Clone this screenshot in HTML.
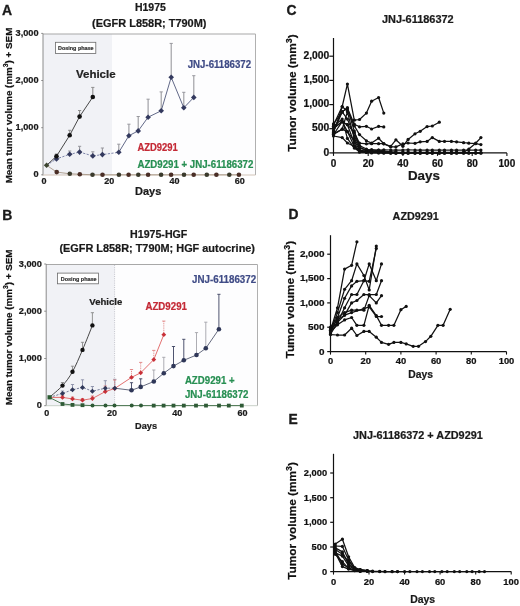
<!DOCTYPE html>
<html><head><meta charset="utf-8"><style>
html,body{margin:0;padding:0;background:#fff;}
svg{display:block;font-family:'Liberation Sans', Arial, sans-serif;}
</style></head><body>
<svg width="520" height="606" viewBox="0 0 520 606">
<text x="2.1" y="15.4" font-size="14" text-anchor="start" fill="#1a1a1a" font-weight="bold" stroke="#1a1a1a" stroke-width="0.3">A</text>
<text x="150.4" y="11.3" font-size="10.5" text-anchor="middle" fill="#1a1a1a" font-weight="bold" stroke="#1a1a1a" stroke-width="0.22">H1975</text>
<text x="149.3" y="26.5" font-size="11" text-anchor="middle" fill="#1a1a1a" font-weight="bold" textLength="114.4" lengthAdjust="spacingAndGlyphs" stroke="#1a1a1a" stroke-width="0.22">(EGFR L858R; T790M)</text>
<rect x="43" y="34" width="212.5" height="141" fill="#fdfdfe" stroke="none"/>
<rect x="43" y="34" width="69" height="141" fill="#f1f2f6"/>
<line x1="43.0" y1="34.0" x2="255.5" y2="34.0" stroke="#a8a8a8" stroke-width="1.2"/>
<line x1="255.5" y1="34.0" x2="255.5" y2="175.0" stroke="#b0b0b0" stroke-width="1"/>
<line x1="43.0" y1="33.5" x2="43.0" y2="175.5" stroke="#8c8c8c" stroke-width="1"/>
<line x1="43.0" y1="175.0" x2="255.5" y2="175.0" stroke="#d2c4b8" stroke-width="1"/>
<line x1="41.2" y1="174.8" x2="43.0" y2="174.8" stroke="#777" stroke-width="0.8"/>
<text x="38.6" y="177.3" font-size="9.2" text-anchor="end" fill="#1a1a1a" font-weight="bold" stroke="#1a1a1a" stroke-width="0.22">0</text>
<line x1="41.2" y1="127.7" x2="43.0" y2="127.7" stroke="#777" stroke-width="0.8"/>
<text x="38.6" y="130.2" font-size="9.2" text-anchor="end" fill="#1a1a1a" font-weight="bold" stroke="#1a1a1a" stroke-width="0.22">1,000</text>
<line x1="41.2" y1="80.5" x2="43.0" y2="80.5" stroke="#777" stroke-width="0.8"/>
<text x="38.6" y="83.0" font-size="9.2" text-anchor="end" fill="#1a1a1a" font-weight="bold" stroke="#1a1a1a" stroke-width="0.22">2,000</text>
<line x1="41.2" y1="33.4" x2="43.0" y2="33.4" stroke="#777" stroke-width="0.8"/>
<text x="38.6" y="35.9" font-size="9.2" text-anchor="end" fill="#1a1a1a" font-weight="bold" stroke="#1a1a1a" stroke-width="0.22">3,000</text>
<text x="43.9" y="184.3" font-size="9" text-anchor="middle" fill="#1a1a1a" font-weight="bold" stroke="#1a1a1a" stroke-width="0.22">0</text>
<text x="109.2" y="184.3" font-size="9" text-anchor="middle" fill="#1a1a1a" font-weight="bold" stroke="#1a1a1a" stroke-width="0.22">20</text>
<text x="174.5" y="184.3" font-size="9" text-anchor="middle" fill="#1a1a1a" font-weight="bold" stroke="#1a1a1a" stroke-width="0.22">40</text>
<text x="239.8" y="184.3" font-size="9" text-anchor="middle" fill="#1a1a1a" font-weight="bold" stroke="#1a1a1a" stroke-width="0.22">60</text>
<text x="148.2" y="194.8" font-size="11.4" text-anchor="middle" fill="#1a1a1a" font-weight="bold" textLength="26.3" lengthAdjust="spacingAndGlyphs" stroke="#1a1a1a" stroke-width="0.22">Days</text>
<text transform="translate(11.9,105.5) rotate(-90)" font-size="9.9" text-anchor="middle" fill="#111" stroke="#111" stroke-width="0.22" font-weight="bold" textLength="155.7" lengthAdjust="spacingAndGlyphs">Mean tumor volume (mm<tspan font-size="6.8" dy="-3.6">3</tspan><tspan dy="3.6">) + SEM</tspan></text>
<rect x="55.4" y="42.3" width="40.4" height="11.2" fill="#fff" stroke="#6a6a6a" stroke-width="0.8"/>
<text x="75.8" y="50.4" font-size="5.8" text-anchor="middle" fill="#333" font-weight="bold" textLength="35.6" lengthAdjust="spacingAndGlyphs" stroke="#333" stroke-width="0.22">Dosing phase</text>
<text x="95.8" y="78.2" font-size="11.5" text-anchor="middle" fill="#222" font-weight="bold" textLength="39.7" lengthAdjust="spacingAndGlyphs" stroke="#222" stroke-width="0.22">Vehicle</text>
<text x="219.4" y="67.9" font-size="10.2" text-anchor="middle" fill="#3f4b86" font-weight="bold" textLength="63.4" lengthAdjust="spacingAndGlyphs" stroke="#3f4b86" stroke-width="0.22">JNJ-61186372</text>
<text x="137.4" y="150.5" font-size="10.0" text-anchor="start" fill="#c42a36" font-weight="bold" textLength="40.4" lengthAdjust="spacingAndGlyphs" stroke="#c42a36" stroke-width="0.22">AZD9291</text>
<text x="137.4" y="167.5" font-size="10.2" text-anchor="start" fill="#278f52" font-weight="bold" textLength="116" lengthAdjust="spacingAndGlyphs" stroke="#278f52" stroke-width="0.22">AZD9291 + JNJ-61186372</text>
<line x1="56.5" y1="156.2" x2="56.5" y2="154.0" stroke="#8e8e8e" stroke-width="1.1"/>
<line x1="54.9" y1="154.0" x2="58.1" y2="154.0" stroke="#8e8e8e" stroke-width="1.0"/>
<line x1="69.7" y1="135.3" x2="69.7" y2="130.3" stroke="#8e8e8e" stroke-width="1.1"/>
<line x1="68.1" y1="130.3" x2="71.3" y2="130.3" stroke="#8e8e8e" stroke-width="1.0"/>
<line x1="79.6" y1="116.6" x2="79.6" y2="110.5" stroke="#8e8e8e" stroke-width="1.1"/>
<line x1="78.0" y1="110.5" x2="81.2" y2="110.5" stroke="#8e8e8e" stroke-width="1.0"/>
<line x1="92.8" y1="97.0" x2="92.8" y2="87.4" stroke="#8e8e8e" stroke-width="1.1"/>
<line x1="91.2" y1="87.4" x2="94.4" y2="87.4" stroke="#8e8e8e" stroke-width="1.0"/>
<line x1="56.5" y1="158.9" x2="56.5" y2="157.0" stroke="#98989e" stroke-width="1.1"/>
<line x1="54.9" y1="157.0" x2="58.1" y2="157.0" stroke="#98989e" stroke-width="1.0"/>
<line x1="69.7" y1="154.3" x2="69.7" y2="151.0" stroke="#98989e" stroke-width="1.1"/>
<line x1="68.1" y1="151.0" x2="71.3" y2="151.0" stroke="#98989e" stroke-width="1.0"/>
<line x1="79.6" y1="152.1" x2="79.6" y2="146.3" stroke="#98989e" stroke-width="1.1"/>
<line x1="78.0" y1="146.3" x2="81.2" y2="146.3" stroke="#98989e" stroke-width="1.0"/>
<line x1="92.8" y1="155.9" x2="92.8" y2="151.8" stroke="#98989e" stroke-width="1.1"/>
<line x1="91.2" y1="151.8" x2="94.4" y2="151.8" stroke="#98989e" stroke-width="1.0"/>
<line x1="102.4" y1="154.6" x2="102.4" y2="148.0" stroke="#98989e" stroke-width="1.1"/>
<line x1="100.8" y1="148.0" x2="104.0" y2="148.0" stroke="#98989e" stroke-width="1.0"/>
<line x1="118.8" y1="152.3" x2="118.8" y2="144.2" stroke="#98989e" stroke-width="1.1"/>
<line x1="117.2" y1="144.2" x2="120.4" y2="144.2" stroke="#98989e" stroke-width="1.0"/>
<line x1="128.9" y1="135.7" x2="128.9" y2="124.2" stroke="#98989e" stroke-width="1.1"/>
<line x1="127.3" y1="124.2" x2="130.5" y2="124.2" stroke="#98989e" stroke-width="1.0"/>
<line x1="138.2" y1="130.9" x2="138.2" y2="116.5" stroke="#98989e" stroke-width="1.1"/>
<line x1="136.6" y1="116.5" x2="139.8" y2="116.5" stroke="#98989e" stroke-width="1.0"/>
<line x1="148.1" y1="117.2" x2="148.1" y2="99.2" stroke="#98989e" stroke-width="1.1"/>
<line x1="146.5" y1="99.2" x2="149.7" y2="99.2" stroke="#98989e" stroke-width="1.0"/>
<line x1="161.2" y1="110.8" x2="161.2" y2="91.9" stroke="#98989e" stroke-width="1.1"/>
<line x1="159.6" y1="91.9" x2="162.8" y2="91.9" stroke="#98989e" stroke-width="1.0"/>
<line x1="171.2" y1="77.3" x2="171.2" y2="43.4" stroke="#98989e" stroke-width="1.1"/>
<line x1="169.6" y1="43.4" x2="172.8" y2="43.4" stroke="#98989e" stroke-width="1.0"/>
<line x1="183.8" y1="107.8" x2="183.8" y2="92.3" stroke="#98989e" stroke-width="1.1"/>
<line x1="182.2" y1="92.3" x2="185.4" y2="92.3" stroke="#98989e" stroke-width="1.0"/>
<line x1="193.8" y1="97.4" x2="193.8" y2="75.7" stroke="#98989e" stroke-width="1.1"/>
<line x1="192.2" y1="75.7" x2="195.4" y2="75.7" stroke="#98989e" stroke-width="1.0"/>
<polyline points="46.6,165.3 56.7,172.1 69.8,173.8 79.8,174.2 92.5,174.8 102.5,174.8 118.9,174.8 128.6,174.8 138.3,174.8 148.1,174.8 161.1,174.8 171.1,174.8 184.0,174.8 193.7,174.8 206.8,174.8 216.4,174.8 229.3,174.8 238.9,174.8" fill="none" stroke="#a89888" stroke-width="0.9" stroke-linejoin="round"/>
<polyline points="46.6,165.3 56.5,158.9 69.7,154.3 79.6,152.1 92.8,155.9 102.4,154.6 118.8,152.3" fill="none" stroke="#7078a0" stroke-width="0.9" stroke-linejoin="round" stroke-dasharray="2.2,1.4"/>
<polyline points="118.8,152.3 128.9,135.7 138.2,130.9 148.1,117.2 161.2,110.8 171.2,77.3 183.8,107.8 193.8,97.4" fill="none" stroke="#50587a" stroke-width="0.9" stroke-linejoin="round"/>
<polyline points="46.6,165.3 56.5,156.2 69.7,135.3 79.6,116.6 92.8,97.0" fill="none" stroke="#333" stroke-width="0.9" stroke-linejoin="round"/>
<circle cx="56.7" cy="172.1" r="2.3" fill="#4a2e26"/>
<circle cx="69.8" cy="173.8" r="2.3" fill="#3a3a2c"/>
<circle cx="79.8" cy="174.2" r="2.3" fill="#4a2e26"/>
<circle cx="92.5" cy="174.8" r="2.3" fill="#3a3a2c"/>
<circle cx="102.5" cy="174.8" r="2.3" fill="#4a2e26"/>
<circle cx="118.9" cy="174.8" r="2.3" fill="#3a3a2c"/>
<circle cx="128.6" cy="174.8" r="2.3" fill="#4a2e26"/>
<circle cx="138.3" cy="174.8" r="2.3" fill="#3a3a2c"/>
<circle cx="148.1" cy="174.8" r="2.3" fill="#4a2e26"/>
<circle cx="161.1" cy="174.8" r="2.3" fill="#3a3a2c"/>
<circle cx="171.1" cy="174.8" r="2.3" fill="#4a2e26"/>
<circle cx="184.0" cy="174.8" r="2.3" fill="#3a3a2c"/>
<circle cx="193.7" cy="174.8" r="2.3" fill="#4a2e26"/>
<circle cx="206.8" cy="174.8" r="2.3" fill="#3a3a2c"/>
<circle cx="216.4" cy="174.8" r="2.3" fill="#4a2e26"/>
<circle cx="229.3" cy="174.8" r="2.3" fill="#3a3a2c"/>
<circle cx="238.9" cy="174.8" r="2.3" fill="#4a2e26"/>
<path d="M56.5,156.1 L59.3,158.9 L56.5,161.7 L53.7,158.9 Z" fill="#33395e"/>
<path d="M69.7,151.5 L72.5,154.3 L69.7,157.1 L66.9,154.3 Z" fill="#33395e"/>
<path d="M79.6,149.3 L82.4,152.1 L79.6,154.9 L76.8,152.1 Z" fill="#33395e"/>
<path d="M92.8,153.1 L95.6,155.9 L92.8,158.7 L90.0,155.9 Z" fill="#33395e"/>
<path d="M102.4,151.8 L105.2,154.6 L102.4,157.4 L99.6,154.6 Z" fill="#33395e"/>
<path d="M118.8,149.5 L121.6,152.3 L118.8,155.1 L116.0,152.3 Z" fill="#33395e"/>
<path d="M128.9,132.9 L131.7,135.7 L128.9,138.5 L126.1,135.7 Z" fill="#33395e"/>
<path d="M138.2,128.1 L141.0,130.9 L138.2,133.7 L135.4,130.9 Z" fill="#33395e"/>
<path d="M148.1,114.4 L150.9,117.2 L148.1,120.0 L145.3,117.2 Z" fill="#33395e"/>
<path d="M161.2,108.0 L164.0,110.8 L161.2,113.6 L158.4,110.8 Z" fill="#33395e"/>
<path d="M171.2,74.5 L174.0,77.3 L171.2,80.1 L168.4,77.3 Z" fill="#33395e"/>
<path d="M183.8,105.0 L186.6,107.8 L183.8,110.6 L181.0,107.8 Z" fill="#33395e"/>
<path d="M193.8,94.6 L196.6,97.4 L193.8,100.2 L191.0,97.4 Z" fill="#33395e"/>
<circle cx="56.5" cy="156.2" r="2.3" fill="#111"/>
<circle cx="69.7" cy="135.3" r="2.3" fill="#111"/>
<circle cx="79.6" cy="116.6" r="2.3" fill="#111"/>
<circle cx="92.8" cy="97.0" r="2.3" fill="#111"/>
<path d="M46.6,162.5 L49.4,165.3 L46.6,168.1 L43.8,165.3 Z" fill="#3d4530"/>
<text x="2.3" y="220.1" font-size="14" text-anchor="start" fill="#1a1a1a" font-weight="bold" stroke="#1a1a1a" stroke-width="0.3">B</text>
<text x="158.7" y="237.8" font-size="10.6" text-anchor="middle" fill="#1a1a1a" font-weight="bold" textLength="57.2" lengthAdjust="spacingAndGlyphs" stroke="#1a1a1a" stroke-width="0.22">H1975-HGF</text>
<text x="157.2" y="252.3" font-size="11" text-anchor="middle" fill="#1a1a1a" font-weight="bold" textLength="195.6" lengthAdjust="spacingAndGlyphs" stroke="#1a1a1a" stroke-width="0.22">(EGFR L858R; T790M; HGF autocrine)</text>
<rect x="46" y="264.5" width="211.5" height="141.2" fill="#fdfdfe"/>
<rect x="46" y="264.5" width="68.6" height="141.2" fill="#f1f2f6"/>
<line x1="114.6" y1="265.0" x2="114.6" y2="405.5" stroke="#b8b8c0" stroke-width="0.8" stroke-dasharray="1,1.2"/>
<line x1="46.0" y1="264.5" x2="257.5" y2="264.5" stroke="#a8a8a8" stroke-width="1.2"/>
<line x1="257.5" y1="264.5" x2="257.5" y2="405.7" stroke="#b0b0b0" stroke-width="1"/>
<line x1="46.2" y1="264.0" x2="46.2" y2="406.0" stroke="#8c8c8c" stroke-width="1"/>
<line x1="46.0" y1="405.7" x2="257.5" y2="405.7" stroke="#c8d0c8" stroke-width="1"/>
<line x1="44.2" y1="405.7" x2="46.2" y2="405.7" stroke="#777" stroke-width="0.8"/>
<text x="41.8" y="408.3" font-size="9.2" text-anchor="end" fill="#1a1a1a" font-weight="bold" stroke="#1a1a1a" stroke-width="0.22">0</text>
<line x1="44.2" y1="358.5" x2="46.2" y2="358.5" stroke="#777" stroke-width="0.8"/>
<text x="41.8" y="361.1" font-size="9.2" text-anchor="end" fill="#1a1a1a" font-weight="bold" stroke="#1a1a1a" stroke-width="0.22">1,000</text>
<line x1="44.2" y1="311.2" x2="46.2" y2="311.2" stroke="#777" stroke-width="0.8"/>
<text x="41.8" y="313.8" font-size="9.2" text-anchor="end" fill="#1a1a1a" font-weight="bold" stroke="#1a1a1a" stroke-width="0.22">2,000</text>
<line x1="44.2" y1="264.0" x2="46.2" y2="264.0" stroke="#777" stroke-width="0.8"/>
<text x="41.8" y="266.6" font-size="9.2" text-anchor="end" fill="#1a1a1a" font-weight="bold" stroke="#1a1a1a" stroke-width="0.22">3,000</text>
<text x="46.8" y="415.9" font-size="9" text-anchor="middle" fill="#1a1a1a" font-weight="bold" stroke="#1a1a1a" stroke-width="0.22">0</text>
<text x="112.0" y="415.9" font-size="9" text-anchor="middle" fill="#1a1a1a" font-weight="bold" stroke="#1a1a1a" stroke-width="0.22">20</text>
<text x="177.2" y="415.9" font-size="9" text-anchor="middle" fill="#1a1a1a" font-weight="bold" stroke="#1a1a1a" stroke-width="0.22">40</text>
<text x="242.4" y="415.9" font-size="9" text-anchor="middle" fill="#1a1a1a" font-weight="bold" stroke="#1a1a1a" stroke-width="0.22">60</text>
<text x="146.0" y="428.5" font-size="9.5" text-anchor="middle" fill="#1a1a1a" font-weight="bold" textLength="22" lengthAdjust="spacingAndGlyphs" stroke="#1a1a1a" stroke-width="0.22">Days</text>
<text transform="translate(11.9,327.35) rotate(-90)" font-size="9.9" text-anchor="middle" fill="#111" stroke="#111" stroke-width="0.22" font-weight="bold" textLength="155.7" lengthAdjust="spacingAndGlyphs">Mean tumor volume (mm<tspan font-size="6.8" dy="-3.6">3</tspan><tspan dy="3.6">) + SEM</tspan></text>
<rect x="57.4" y="273.1" width="41.1" height="10.7" fill="#fff" stroke="#6a6a6a" stroke-width="0.8"/>
<text x="78.7" y="281.2" font-size="5.8" text-anchor="middle" fill="#333" font-weight="bold" textLength="35.8" lengthAdjust="spacingAndGlyphs" stroke="#333" stroke-width="0.22">Dosing phase</text>
<text x="105.8" y="304.6" font-size="9.6" text-anchor="middle" fill="#222" font-weight="bold" textLength="33" lengthAdjust="spacingAndGlyphs" stroke="#222" stroke-width="0.22">Vehicle</text>
<text x="224.1" y="283.4" font-size="10.3" text-anchor="middle" fill="#3f4b86" font-weight="bold" textLength="64" lengthAdjust="spacingAndGlyphs" stroke="#3f4b86" stroke-width="0.22">JNJ-61186372</text>
<text x="166.2" y="309.5" font-size="10.3" text-anchor="middle" fill="#c42a36" font-weight="bold" textLength="41.5" lengthAdjust="spacingAndGlyphs" stroke="#c42a36" stroke-width="0.22">AZD9291</text>
<text x="184.9" y="384.1" font-size="10.3" text-anchor="start" fill="#278f52" font-weight="bold" textLength="49.7" lengthAdjust="spacingAndGlyphs" stroke="#278f52" stroke-width="0.22">AZD9291 +</text>
<text x="184.9" y="398.2" font-size="10.2" text-anchor="start" fill="#278f52" font-weight="bold" textLength="63.6" lengthAdjust="spacingAndGlyphs" stroke="#278f52" stroke-width="0.22">JNJ-61186372</text>
<line x1="62.5" y1="385.6" x2="62.5" y2="382.5" stroke="#8a8a8a" stroke-width="0.9"/>
<line x1="60.9" y1="382.5" x2="64.1" y2="382.5" stroke="#8a8a8a" stroke-width="0.9"/>
<line x1="72.5" y1="371.7" x2="72.5" y2="366.2" stroke="#8a8a8a" stroke-width="0.9"/>
<line x1="70.9" y1="366.2" x2="74.1" y2="366.2" stroke="#8a8a8a" stroke-width="0.9"/>
<line x1="82.5" y1="349.9" x2="82.5" y2="342.3" stroke="#8a8a8a" stroke-width="0.9"/>
<line x1="80.9" y1="342.3" x2="84.1" y2="342.3" stroke="#8a8a8a" stroke-width="0.9"/>
<line x1="92.4" y1="325.4" x2="92.4" y2="312.7" stroke="#8a8a8a" stroke-width="0.9"/>
<line x1="90.8" y1="312.7" x2="94.0" y2="312.7" stroke="#8a8a8a" stroke-width="0.9"/>
<line x1="62.5" y1="393.4" x2="62.5" y2="391.0" stroke="#8a8fa8" stroke-width="0.9"/>
<line x1="60.9" y1="391.0" x2="64.1" y2="391.0" stroke="#8a8fa8" stroke-width="0.9"/>
<line x1="72.5" y1="389.8" x2="72.5" y2="384.5" stroke="#8a8fa8" stroke-width="0.9"/>
<line x1="70.9" y1="384.5" x2="74.1" y2="384.5" stroke="#8a8fa8" stroke-width="0.9"/>
<line x1="82.5" y1="387.4" x2="82.5" y2="379.8" stroke="#8a8fa8" stroke-width="0.9"/>
<line x1="80.9" y1="379.8" x2="84.1" y2="379.8" stroke="#8a8fa8" stroke-width="0.9"/>
<line x1="92.4" y1="391.2" x2="92.4" y2="386.5" stroke="#8a8fa8" stroke-width="0.9"/>
<line x1="90.8" y1="386.5" x2="94.0" y2="386.5" stroke="#8a8fa8" stroke-width="0.9"/>
<line x1="105.3" y1="388.2" x2="105.3" y2="380.7" stroke="#8a8fa8" stroke-width="0.9"/>
<line x1="103.7" y1="380.7" x2="106.9" y2="380.7" stroke="#8a8fa8" stroke-width="0.9"/>
<line x1="114.8" y1="388.2" x2="114.8" y2="379.3" stroke="#8a8fa8" stroke-width="0.9"/>
<line x1="113.2" y1="379.3" x2="116.4" y2="379.3" stroke="#8a8fa8" stroke-width="0.9"/>
<line x1="131.5" y1="390.3" x2="131.5" y2="382.7" stroke="#3c4260" stroke-width="0.9"/>
<line x1="129.9" y1="382.7" x2="133.1" y2="382.7" stroke="#3c4260" stroke-width="0.9"/>
<line x1="140.7" y1="386.9" x2="140.7" y2="378.8" stroke="#3c4260" stroke-width="0.9"/>
<line x1="139.1" y1="378.8" x2="142.3" y2="378.8" stroke="#3c4260" stroke-width="0.9"/>
<line x1="153.8" y1="381.5" x2="153.8" y2="370.0" stroke="#a4a4aa" stroke-width="0.9"/>
<line x1="152.2" y1="370.0" x2="155.4" y2="370.0" stroke="#a4a4aa" stroke-width="0.9"/>
<line x1="163.8" y1="373.2" x2="163.8" y2="357.3" stroke="#a4a4aa" stroke-width="0.9"/>
<line x1="162.2" y1="357.3" x2="165.4" y2="357.3" stroke="#a4a4aa" stroke-width="0.9"/>
<line x1="173.5" y1="366.1" x2="173.5" y2="346.5" stroke="#3c4260" stroke-width="0.9"/>
<line x1="171.9" y1="346.5" x2="175.1" y2="346.5" stroke="#3c4260" stroke-width="0.9"/>
<line x1="183.8" y1="360.3" x2="183.8" y2="339.3" stroke="#3c4260" stroke-width="0.9"/>
<line x1="182.2" y1="339.3" x2="185.4" y2="339.3" stroke="#3c4260" stroke-width="0.9"/>
<line x1="196.5" y1="355.0" x2="196.5" y2="332.6" stroke="#a4a4aa" stroke-width="0.9"/>
<line x1="194.9" y1="332.6" x2="198.1" y2="332.6" stroke="#a4a4aa" stroke-width="0.9"/>
<line x1="205.8" y1="348.3" x2="205.8" y2="322.2" stroke="#a4a4aa" stroke-width="0.9"/>
<line x1="204.2" y1="322.2" x2="207.4" y2="322.2" stroke="#a4a4aa" stroke-width="0.9"/>
<line x1="218.9" y1="329.2" x2="218.9" y2="294.3" stroke="#3c4260" stroke-width="0.9"/>
<line x1="217.3" y1="294.3" x2="220.5" y2="294.3" stroke="#3c4260" stroke-width="0.9"/>
<line x1="62.5" y1="397.4" x2="62.5" y2="395.5" stroke="#e08080" stroke-width="0.9" stroke-dasharray="1,0.8"/>
<line x1="60.9" y1="395.5" x2="64.1" y2="395.5" stroke="#e08080" stroke-width="0.9"/>
<line x1="72.5" y1="398.9" x2="72.5" y2="397.0" stroke="#e08080" stroke-width="0.9" stroke-dasharray="1,0.8"/>
<line x1="70.9" y1="397.0" x2="74.1" y2="397.0" stroke="#e08080" stroke-width="0.9"/>
<line x1="82.5" y1="400.2" x2="82.5" y2="398.5" stroke="#e08080" stroke-width="0.9" stroke-dasharray="1,0.8"/>
<line x1="80.9" y1="398.5" x2="84.1" y2="398.5" stroke="#e08080" stroke-width="0.9"/>
<line x1="92.4" y1="398.5" x2="92.4" y2="396.0" stroke="#e08080" stroke-width="0.9" stroke-dasharray="1,0.8"/>
<line x1="90.8" y1="396.0" x2="94.0" y2="396.0" stroke="#e08080" stroke-width="0.9"/>
<line x1="105.3" y1="391.6" x2="105.3" y2="386.0" stroke="#e08080" stroke-width="0.9" stroke-dasharray="1,0.8"/>
<line x1="103.7" y1="386.0" x2="106.9" y2="386.0" stroke="#e08080" stroke-width="0.9"/>
<line x1="114.7" y1="388.5" x2="114.7" y2="380.0" stroke="#e08080" stroke-width="0.9" stroke-dasharray="1,0.8"/>
<line x1="113.1" y1="380.0" x2="116.3" y2="380.0" stroke="#e08080" stroke-width="0.9"/>
<line x1="131.5" y1="377.4" x2="131.5" y2="369.5" stroke="#e08080" stroke-width="0.9" stroke-dasharray="1,0.8"/>
<line x1="129.9" y1="369.5" x2="133.1" y2="369.5" stroke="#e08080" stroke-width="0.9"/>
<line x1="140.7" y1="372.8" x2="140.7" y2="362.4" stroke="#e08080" stroke-width="0.9" stroke-dasharray="1,0.8"/>
<line x1="139.1" y1="362.4" x2="142.3" y2="362.4" stroke="#e08080" stroke-width="0.9"/>
<line x1="153.8" y1="359.6" x2="153.8" y2="350.4" stroke="#e08080" stroke-width="0.9" stroke-dasharray="1,0.8"/>
<line x1="152.2" y1="350.4" x2="155.4" y2="350.4" stroke="#e08080" stroke-width="0.9"/>
<line x1="163.8" y1="334.7" x2="163.8" y2="321.1" stroke="#e08080" stroke-width="0.9" stroke-dasharray="1,0.8"/>
<line x1="162.2" y1="321.1" x2="165.4" y2="321.1" stroke="#e08080" stroke-width="0.9"/>
<polyline points="49.4,397.4 62.5,404.0 72.5,404.9 82.5,405.2 92.5,405.6 105.5,405.6 114.5,405.6 131.7,405.6 141.0,405.6 153.7,405.6 163.6,405.6 173.5,405.6 183.8,405.6 196.0,405.6 206.0,405.6 219.0,405.6 228.8,405.6 241.8,405.6" fill="none" stroke="#3a6a42" stroke-width="0.9" stroke-linejoin="round"/>
<polyline points="49.4,397.4 62.5,397.4 72.5,398.9 82.5,400.2 92.4,398.5 105.3,391.6 114.7,388.5 131.5,377.4 140.7,372.8 153.8,359.6 163.8,334.7" fill="none" stroke="#e06060" stroke-width="0.9" stroke-linejoin="round"/>
<polyline points="49.4,397.4 62.5,393.4 72.5,389.8 82.5,387.4 92.4,391.2 105.3,388.2 114.8,388.2" fill="none" stroke="#6a7090" stroke-width="0.9" stroke-linejoin="round" stroke-dasharray="2.2,1.4"/>
<polyline points="114.8,388.2 131.5,390.3 140.7,386.9 153.8,381.5 163.8,373.2 173.5,366.1 183.8,360.3 196.5,355.0 205.8,348.3 218.9,329.2" fill="none" stroke="#555a70" stroke-width="0.9" stroke-linejoin="round"/>
<path d="M49.4,397.4 C51.6,395.4 58.6,389.9 62.5,385.6 C66.3,381.3 69.2,377.6 72.5,371.7 C75.8,365.8 79.2,357.6 82.5,349.9 C85.8,342.2 90.8,329.5 92.4,325.4" fill="none" stroke="#333" stroke-width="0.9"/>
<rect x="60.6" y="402.1" width="3.8" height="3.8" fill="#2e5a36"/>
<rect x="70.6" y="403.0" width="3.8" height="3.8" fill="#2e5a36"/>
<rect x="80.6" y="403.3" width="3.8" height="3.8" fill="#2e5a36"/>
<circle cx="92.5" cy="405.6" r="2.0" fill="#2e5a36"/>
<circle cx="105.5" cy="405.6" r="2.0" fill="#2e5a36"/>
<circle cx="114.5" cy="405.6" r="2.0" fill="#2e5a36"/>
<circle cx="131.7" cy="405.6" r="2.0" fill="#2e5a36"/>
<circle cx="141.0" cy="405.6" r="2.0" fill="#2e5a36"/>
<rect x="151.8" y="403.7" width="3.8" height="3.8" fill="#2e5a36"/>
<rect x="161.7" y="403.7" width="3.8" height="3.8" fill="#2e5a36"/>
<rect x="171.6" y="403.7" width="3.8" height="3.8" fill="#2e5a36"/>
<rect x="181.9" y="403.7" width="3.8" height="3.8" fill="#2e5a36"/>
<rect x="194.1" y="403.7" width="3.8" height="3.8" fill="#2e5a36"/>
<rect x="204.1" y="403.7" width="3.8" height="3.8" fill="#2e5a36"/>
<rect x="217.1" y="403.7" width="3.8" height="3.8" fill="#2e5a36"/>
<rect x="226.9" y="403.7" width="3.8" height="3.8" fill="#2e5a36"/>
<rect x="239.9" y="403.7" width="3.8" height="3.8" fill="#2e5a36"/>
<path d="M62.5,395.0 L64.9,397.4 L62.5,399.8 L60.1,397.4 Z" fill="#c83038"/>
<path d="M72.5,396.5 L74.9,398.9 L72.5,401.3 L70.1,398.9 Z" fill="#c83038"/>
<path d="M82.5,397.8 L84.9,400.2 L82.5,402.6 L80.1,400.2 Z" fill="#c83038"/>
<path d="M92.4,396.1 L94.8,398.5 L92.4,400.9 L90.0,398.5 Z" fill="#c83038"/>
<path d="M105.3,389.2 L107.7,391.6 L105.3,394.0 L102.9,391.6 Z" fill="#c83038"/>
<path d="M114.7,386.1 L117.1,388.5 L114.7,390.9 L112.3,388.5 Z" fill="#c83038"/>
<path d="M131.5,375.0 L133.9,377.4 L131.5,379.8 L129.1,377.4 Z" fill="#c83038"/>
<path d="M140.7,370.4 L143.1,372.8 L140.7,375.2 L138.3,372.8 Z" fill="#c83038"/>
<path d="M153.8,357.2 L156.2,359.6 L153.8,362.0 L151.4,359.6 Z" fill="#c83038"/>
<path d="M163.8,332.3 L166.2,334.7 L163.8,337.1 L161.4,334.7 Z" fill="#c83038"/>
<path d="M62.5,390.9 L65.0,393.4 L62.5,395.9 L60.0,393.4 Z" fill="#2f3758"/>
<path d="M72.5,387.3 L75.0,389.8 L72.5,392.3 L70.0,389.8 Z" fill="#2f3758"/>
<path d="M82.5,384.9 L85.0,387.4 L82.5,389.9 L80.0,387.4 Z" fill="#2f3758"/>
<path d="M92.4,388.7 L94.9,391.2 L92.4,393.7 L89.9,391.2 Z" fill="#2f3758"/>
<path d="M105.3,385.7 L107.8,388.2 L105.3,390.7 L102.8,388.2 Z" fill="#2f3758"/>
<path d="M114.8,385.7 L117.3,388.2 L114.8,390.7 L112.3,388.2 Z" fill="#2f3758"/>
<circle cx="131.5" cy="390.3" r="2.3" fill="#2f3758"/>
<circle cx="140.7" cy="386.9" r="2.3" fill="#2f3758"/>
<circle cx="153.8" cy="381.5" r="2.3" fill="#2f3758"/>
<circle cx="163.8" cy="373.2" r="2.3" fill="#2f3758"/>
<circle cx="173.5" cy="366.1" r="2.3" fill="#2f3758"/>
<circle cx="183.8" cy="360.3" r="2.3" fill="#2f3758"/>
<circle cx="196.5" cy="355.0" r="2.3" fill="#2f3758"/>
<circle cx="205.8" cy="348.3" r="2.3" fill="#2f3758"/>
<circle cx="218.9" cy="329.2" r="2.3" fill="#2f3758"/>
<circle cx="62.5" cy="385.6" r="2.2" fill="#111"/>
<circle cx="72.5" cy="371.7" r="2.2" fill="#111"/>
<circle cx="82.5" cy="349.9" r="2.2" fill="#111"/>
<circle cx="92.4" cy="325.4" r="2.2" fill="#111"/>
<rect x="47.5" y="395.2" width="4.2" height="4.2" fill="#2a5a30"/>
<text x="286.6" y="15.1" font-size="13.8" text-anchor="start" fill="#1a1a1a" font-weight="bold" stroke="#1a1a1a" stroke-width="0.35">C</text>
<text x="417.8" y="22.7" font-size="10.8" text-anchor="middle" fill="#1a1a1a" font-weight="bold" textLength="71.8" lengthAdjust="spacingAndGlyphs" stroke="#1a1a1a" stroke-width="0.22">JNJ-61186372</text>
<line x1="333.5" y1="38.0" x2="333.5" y2="153.5" stroke="#111" stroke-width="1.2"/>
<line x1="332.9" y1="152.9" x2="506.9" y2="152.9" stroke="#111" stroke-width="1.2"/>
<line x1="329.3" y1="152.9" x2="333.5" y2="152.9" stroke="#111" stroke-width="1.2"/>
<text x="329.3" y="155.6" font-size="10.3" text-anchor="end" fill="#111" font-weight="bold" stroke="#111" stroke-width="0.22">0</text>
<line x1="329.3" y1="128.7" x2="333.5" y2="128.7" stroke="#111" stroke-width="1.2"/>
<text x="329.3" y="131.4" font-size="10.3" text-anchor="end" fill="#111" font-weight="bold" stroke="#111" stroke-width="0.22">500</text>
<line x1="329.3" y1="104.6" x2="333.5" y2="104.6" stroke="#111" stroke-width="1.2"/>
<text x="329.3" y="107.3" font-size="10.3" text-anchor="end" fill="#111" font-weight="bold" stroke="#111" stroke-width="0.22">1,000</text>
<line x1="329.3" y1="80.4" x2="333.5" y2="80.4" stroke="#111" stroke-width="1.2"/>
<text x="329.3" y="83.1" font-size="10.3" text-anchor="end" fill="#111" font-weight="bold" stroke="#111" stroke-width="0.22">1,500</text>
<line x1="329.3" y1="56.2" x2="333.5" y2="56.2" stroke="#111" stroke-width="1.2"/>
<text x="329.3" y="58.9" font-size="10.3" text-anchor="end" fill="#111" font-weight="bold" stroke="#111" stroke-width="0.22">2,000</text>
<line x1="333.5" y1="152.9" x2="333.5" y2="155.9" stroke="#111" stroke-width="1.1"/>
<text x="333.5" y="166.5" font-size="10" text-anchor="middle" fill="#111" font-weight="bold" stroke="#111" stroke-width="0.22">0</text>
<line x1="368.2" y1="152.9" x2="368.2" y2="155.9" stroke="#111" stroke-width="1.1"/>
<text x="368.2" y="166.5" font-size="10" text-anchor="middle" fill="#111" font-weight="bold" stroke="#111" stroke-width="0.22">20</text>
<line x1="402.9" y1="152.9" x2="402.9" y2="155.9" stroke="#111" stroke-width="1.1"/>
<text x="402.9" y="166.5" font-size="10" text-anchor="middle" fill="#111" font-weight="bold" stroke="#111" stroke-width="0.22">40</text>
<line x1="437.5" y1="152.9" x2="437.5" y2="155.9" stroke="#111" stroke-width="1.1"/>
<text x="437.5" y="166.5" font-size="10" text-anchor="middle" fill="#111" font-weight="bold" stroke="#111" stroke-width="0.22">60</text>
<line x1="472.2" y1="152.9" x2="472.2" y2="155.9" stroke="#111" stroke-width="1.1"/>
<text x="472.2" y="166.5" font-size="10" text-anchor="middle" fill="#111" font-weight="bold" stroke="#111" stroke-width="0.22">80</text>
<line x1="506.9" y1="152.9" x2="506.9" y2="155.9" stroke="#111" stroke-width="1.1"/>
<text x="506.9" y="166.5" font-size="10" text-anchor="middle" fill="#111" font-weight="bold" stroke="#111" stroke-width="0.22">100</text>
<text x="423.9" y="179.5" font-size="12.5" text-anchor="middle" fill="#1a1a1a" font-weight="bold" textLength="31.9" lengthAdjust="spacingAndGlyphs" stroke="#1a1a1a" stroke-width="0.22">Days</text>
<text transform="translate(295.8,93.1) rotate(-90)" font-size="11.5" text-anchor="middle" fill="#111" stroke="#111" stroke-width="0.22" font-weight="bold" textLength="117.5" lengthAdjust="spacingAndGlyphs">Tumor volume (mm<tspan font-size="8.6" dy="-3.6">3</tspan><tspan dy="3.6">)</tspan></text>
<polyline points="333.5,125.0 342.2,106.5 347.4,84.1 354.3,120.2 359.5,119.5 366.4,113.1 371.6,101.2 378.6,97.5 383.8,113.1" fill="none" stroke="#111" stroke-width="1.25" stroke-linejoin="round"/>
<circle cx="333.5" cy="125.0" r="1.6" fill="#111"/>
<circle cx="342.2" cy="106.5" r="1.6" fill="#111"/>
<circle cx="347.4" cy="84.1" r="1.6" fill="#111"/>
<circle cx="354.3" cy="120.2" r="1.6" fill="#111"/>
<circle cx="359.5" cy="119.5" r="1.6" fill="#111"/>
<circle cx="366.4" cy="113.1" r="1.6" fill="#111"/>
<circle cx="371.6" cy="101.2" r="1.6" fill="#111"/>
<circle cx="378.6" cy="97.5" r="1.6" fill="#111"/>
<circle cx="383.8" cy="113.1" r="1.6" fill="#111"/>
<polyline points="333.5,131.1 342.2,111.8 347.4,107.9 354.3,124.2 359.5,126.8 366.4,126.3 371.6,129.0 378.6,126.3 383.8,126.9" fill="none" stroke="#111" stroke-width="1.25" stroke-linejoin="round"/>
<circle cx="333.5" cy="131.1" r="1.6" fill="#111"/>
<circle cx="342.2" cy="111.8" r="1.6" fill="#111"/>
<circle cx="347.4" cy="107.9" r="1.6" fill="#111"/>
<circle cx="354.3" cy="124.2" r="1.6" fill="#111"/>
<circle cx="359.5" cy="126.8" r="1.6" fill="#111"/>
<circle cx="366.4" cy="126.3" r="1.6" fill="#111"/>
<circle cx="371.6" cy="129.0" r="1.6" fill="#111"/>
<circle cx="378.6" cy="126.3" r="1.6" fill="#111"/>
<circle cx="383.8" cy="126.9" r="1.6" fill="#111"/>
<polyline points="333.5,132.6 342.2,106.9 347.4,110.4 354.3,125.8 359.5,134.6 366.4,140.8 371.6,143.1 378.6,138.2 383.8,143.8 390.7,146.3 395.9,139.8 402.9,146.3 408.1,139.4 415.0,133.8 420.2,131.3 427.1,126.6 432.3,126.0 439.3,122.2" fill="none" stroke="#111" stroke-width="1.25" stroke-linejoin="round"/>
<circle cx="333.5" cy="132.6" r="1.6" fill="#111"/>
<circle cx="342.2" cy="106.9" r="1.6" fill="#111"/>
<circle cx="347.4" cy="110.4" r="1.6" fill="#111"/>
<circle cx="354.3" cy="125.8" r="1.6" fill="#111"/>
<circle cx="359.5" cy="134.6" r="1.6" fill="#111"/>
<circle cx="366.4" cy="140.8" r="1.6" fill="#111"/>
<circle cx="371.6" cy="143.1" r="1.6" fill="#111"/>
<circle cx="378.6" cy="138.2" r="1.6" fill="#111"/>
<circle cx="383.8" cy="143.8" r="1.6" fill="#111"/>
<circle cx="390.7" cy="146.3" r="1.6" fill="#111"/>
<circle cx="395.9" cy="139.8" r="1.6" fill="#111"/>
<circle cx="402.9" cy="146.3" r="1.6" fill="#111"/>
<circle cx="408.1" cy="139.4" r="1.6" fill="#111"/>
<circle cx="415.0" cy="133.8" r="1.6" fill="#111"/>
<circle cx="420.2" cy="131.3" r="1.6" fill="#111"/>
<circle cx="427.1" cy="126.6" r="1.6" fill="#111"/>
<circle cx="432.3" cy="126.0" r="1.6" fill="#111"/>
<circle cx="439.3" cy="122.2" r="1.6" fill="#111"/>
<polyline points="333.5,127.8 342.2,121.7 347.4,124.7 354.3,132.6 359.5,143.2 366.4,143.8 371.6,143.7 378.6,143.7 383.8,143.7 390.7,146.9 395.9,146.9 402.9,143.9 408.1,143.0 415.0,143.3 420.2,141.8 427.1,141.4 432.3,137.6 439.3,141.4 444.5,141.4 451.4,141.4 456.6,141.8 463.6,142.7 468.8,143.2 475.7,143.7 480.9,144.6" fill="none" stroke="#111" stroke-width="1.25" stroke-linejoin="round"/>
<circle cx="333.5" cy="127.8" r="1.6" fill="#111"/>
<circle cx="342.2" cy="121.7" r="1.6" fill="#111"/>
<circle cx="347.4" cy="124.7" r="1.6" fill="#111"/>
<circle cx="354.3" cy="132.6" r="1.6" fill="#111"/>
<circle cx="359.5" cy="143.2" r="1.6" fill="#111"/>
<circle cx="366.4" cy="143.8" r="1.6" fill="#111"/>
<circle cx="371.6" cy="143.7" r="1.6" fill="#111"/>
<circle cx="378.6" cy="143.7" r="1.6" fill="#111"/>
<circle cx="383.8" cy="143.7" r="1.6" fill="#111"/>
<circle cx="390.7" cy="146.9" r="1.6" fill="#111"/>
<circle cx="395.9" cy="146.9" r="1.6" fill="#111"/>
<circle cx="402.9" cy="143.9" r="1.6" fill="#111"/>
<circle cx="408.1" cy="143.0" r="1.6" fill="#111"/>
<circle cx="415.0" cy="143.3" r="1.6" fill="#111"/>
<circle cx="420.2" cy="141.8" r="1.6" fill="#111"/>
<circle cx="427.1" cy="141.4" r="1.6" fill="#111"/>
<circle cx="432.3" cy="137.6" r="1.6" fill="#111"/>
<circle cx="439.3" cy="141.4" r="1.6" fill="#111"/>
<circle cx="444.5" cy="141.4" r="1.6" fill="#111"/>
<circle cx="451.4" cy="141.4" r="1.6" fill="#111"/>
<circle cx="456.6" cy="141.8" r="1.6" fill="#111"/>
<circle cx="463.6" cy="142.7" r="1.6" fill="#111"/>
<circle cx="468.8" cy="143.2" r="1.6" fill="#111"/>
<circle cx="475.7" cy="143.7" r="1.6" fill="#111"/>
<circle cx="480.9" cy="144.6" r="1.6" fill="#111"/>
<polyline points="333.5,134.5 342.2,129.2 347.4,111.8 354.3,138.4 359.5,148.1 366.4,150.0 371.6,151.0 378.6,151.4 383.8,151.9 390.7,152.2 395.9,152.4 402.9,152.4 408.1,152.4 415.0,152.4 420.2,152.4 427.1,152.4 432.3,152.4 439.3,152.4 444.5,152.4 451.4,152.4 456.6,152.4 463.6,152.4 468.8,149.0 475.7,143.2 480.9,137.6" fill="none" stroke="#111" stroke-width="1.25" stroke-linejoin="round"/>
<circle cx="333.5" cy="134.5" r="1.6" fill="#111"/>
<circle cx="342.2" cy="129.2" r="1.6" fill="#111"/>
<circle cx="347.4" cy="111.8" r="1.6" fill="#111"/>
<circle cx="354.3" cy="138.4" r="1.6" fill="#111"/>
<circle cx="359.5" cy="148.1" r="1.6" fill="#111"/>
<circle cx="366.4" cy="150.0" r="1.6" fill="#111"/>
<circle cx="371.6" cy="151.0" r="1.6" fill="#111"/>
<circle cx="378.6" cy="151.4" r="1.6" fill="#111"/>
<circle cx="383.8" cy="151.9" r="1.6" fill="#111"/>
<circle cx="390.7" cy="152.2" r="1.6" fill="#111"/>
<circle cx="395.9" cy="152.4" r="1.6" fill="#111"/>
<circle cx="402.9" cy="152.4" r="1.6" fill="#111"/>
<circle cx="408.1" cy="152.4" r="1.6" fill="#111"/>
<circle cx="415.0" cy="152.4" r="1.6" fill="#111"/>
<circle cx="420.2" cy="152.4" r="1.6" fill="#111"/>
<circle cx="427.1" cy="152.4" r="1.6" fill="#111"/>
<circle cx="432.3" cy="152.4" r="1.6" fill="#111"/>
<circle cx="439.3" cy="152.4" r="1.6" fill="#111"/>
<circle cx="444.5" cy="152.4" r="1.6" fill="#111"/>
<circle cx="451.4" cy="152.4" r="1.6" fill="#111"/>
<circle cx="456.6" cy="152.4" r="1.6" fill="#111"/>
<circle cx="463.6" cy="152.4" r="1.6" fill="#111"/>
<circle cx="468.8" cy="149.0" r="1.6" fill="#111"/>
<circle cx="475.7" cy="143.2" r="1.6" fill="#111"/>
<circle cx="480.9" cy="137.6" r="1.6" fill="#111"/>
<polyline points="333.5,123.9 342.2,111.8 347.4,119.1 354.3,136.0 359.5,145.6 366.4,149.0 371.6,150.5 378.6,151.4 383.8,151.9 390.7,152.4 395.9,152.7 402.9,152.9" fill="none" stroke="#111" stroke-width="1.25" stroke-linejoin="round"/>
<circle cx="333.5" cy="123.9" r="1.6" fill="#111"/>
<circle cx="342.2" cy="111.8" r="1.6" fill="#111"/>
<circle cx="347.4" cy="119.1" r="1.6" fill="#111"/>
<circle cx="354.3" cy="136.0" r="1.6" fill="#111"/>
<circle cx="359.5" cy="145.6" r="1.6" fill="#111"/>
<circle cx="366.4" cy="149.0" r="1.6" fill="#111"/>
<circle cx="371.6" cy="150.5" r="1.6" fill="#111"/>
<circle cx="378.6" cy="151.4" r="1.6" fill="#111"/>
<circle cx="383.8" cy="151.9" r="1.6" fill="#111"/>
<circle cx="390.7" cy="152.4" r="1.6" fill="#111"/>
<circle cx="395.9" cy="152.7" r="1.6" fill="#111"/>
<circle cx="402.9" cy="152.9" r="1.6" fill="#111"/>
<polyline points="333.5,128.7 342.2,121.5 347.4,131.6 354.3,140.8 359.5,150.0 366.4,151.4 371.6,151.9 378.6,152.4 383.8,152.7 390.7,152.9 395.9,152.9 402.9,152.9 408.1,152.9 415.0,152.9 420.2,152.9 427.1,152.9 432.3,152.9 439.3,152.9 444.5,152.9 451.4,152.9 456.6,152.9 463.6,152.9 468.8,152.9 475.7,152.9 480.9,152.9" fill="none" stroke="#111" stroke-width="1.25" stroke-linejoin="round"/>
<circle cx="333.5" cy="128.7" r="1.6" fill="#111"/>
<circle cx="342.2" cy="121.5" r="1.6" fill="#111"/>
<circle cx="347.4" cy="131.6" r="1.6" fill="#111"/>
<circle cx="354.3" cy="140.8" r="1.6" fill="#111"/>
<circle cx="359.5" cy="150.0" r="1.6" fill="#111"/>
<circle cx="366.4" cy="151.4" r="1.6" fill="#111"/>
<circle cx="371.6" cy="151.9" r="1.6" fill="#111"/>
<circle cx="378.6" cy="152.4" r="1.6" fill="#111"/>
<circle cx="383.8" cy="152.7" r="1.6" fill="#111"/>
<circle cx="390.7" cy="152.9" r="1.6" fill="#111"/>
<circle cx="395.9" cy="152.9" r="1.6" fill="#111"/>
<circle cx="402.9" cy="152.9" r="1.6" fill="#111"/>
<circle cx="408.1" cy="152.9" r="1.6" fill="#111"/>
<circle cx="415.0" cy="152.9" r="1.6" fill="#111"/>
<circle cx="420.2" cy="152.9" r="1.6" fill="#111"/>
<circle cx="427.1" cy="152.9" r="1.6" fill="#111"/>
<circle cx="432.3" cy="152.9" r="1.6" fill="#111"/>
<circle cx="439.3" cy="152.9" r="1.6" fill="#111"/>
<circle cx="444.5" cy="152.9" r="1.6" fill="#111"/>
<circle cx="451.4" cy="152.9" r="1.6" fill="#111"/>
<circle cx="456.6" cy="152.9" r="1.6" fill="#111"/>
<circle cx="463.6" cy="152.9" r="1.6" fill="#111"/>
<circle cx="468.8" cy="152.9" r="1.6" fill="#111"/>
<circle cx="475.7" cy="152.9" r="1.6" fill="#111"/>
<circle cx="480.9" cy="152.9" r="1.6" fill="#111"/>
<polyline points="333.5,136.0 342.2,137.6 347.4,143.0 354.3,146.5 359.5,151.9 366.4,151.9 371.6,152.4 378.6,152.7 383.8,152.9 390.7,152.9 395.9,152.9 402.9,152.9 408.1,152.9 415.0,152.9 420.2,152.9 427.1,152.9 432.3,152.9 439.3,152.9 444.5,152.9 451.4,152.9 456.6,152.9 463.6,152.9 468.8,152.9 475.7,152.9 480.9,152.9" fill="none" stroke="#111" stroke-width="1.25" stroke-linejoin="round"/>
<circle cx="333.5" cy="136.0" r="1.6" fill="#111"/>
<circle cx="342.2" cy="137.6" r="1.6" fill="#111"/>
<circle cx="347.4" cy="143.0" r="1.6" fill="#111"/>
<circle cx="354.3" cy="146.5" r="1.6" fill="#111"/>
<circle cx="359.5" cy="151.9" r="1.6" fill="#111"/>
<circle cx="366.4" cy="151.9" r="1.6" fill="#111"/>
<circle cx="371.6" cy="152.4" r="1.6" fill="#111"/>
<circle cx="378.6" cy="152.7" r="1.6" fill="#111"/>
<circle cx="383.8" cy="152.9" r="1.6" fill="#111"/>
<circle cx="390.7" cy="152.9" r="1.6" fill="#111"/>
<circle cx="395.9" cy="152.9" r="1.6" fill="#111"/>
<circle cx="402.9" cy="152.9" r="1.6" fill="#111"/>
<circle cx="408.1" cy="152.9" r="1.6" fill="#111"/>
<circle cx="415.0" cy="152.9" r="1.6" fill="#111"/>
<circle cx="420.2" cy="152.9" r="1.6" fill="#111"/>
<circle cx="427.1" cy="152.9" r="1.6" fill="#111"/>
<circle cx="432.3" cy="152.9" r="1.6" fill="#111"/>
<circle cx="439.3" cy="152.9" r="1.6" fill="#111"/>
<circle cx="444.5" cy="152.9" r="1.6" fill="#111"/>
<circle cx="451.4" cy="152.9" r="1.6" fill="#111"/>
<circle cx="456.6" cy="152.9" r="1.6" fill="#111"/>
<circle cx="463.6" cy="152.9" r="1.6" fill="#111"/>
<circle cx="468.8" cy="152.9" r="1.6" fill="#111"/>
<circle cx="475.7" cy="152.9" r="1.6" fill="#111"/>
<circle cx="480.9" cy="152.9" r="1.6" fill="#111"/>
<polyline points="333.5,133.6 342.2,129.2 347.4,131.6 354.3,146.5 359.5,150.5 366.4,150.0 371.6,149.5 378.6,150.0 383.8,149.8 390.7,150.0 395.9,150.0 402.9,150.0 408.1,149.8 415.0,150.0 420.2,150.0 427.1,150.0 432.3,150.0 439.3,150.0 444.5,150.0 451.4,150.0 456.6,150.2 463.6,150.0 468.8,150.0 475.7,150.0 480.9,150.0" fill="none" stroke="#111" stroke-width="1.25" stroke-linejoin="round"/>
<circle cx="333.5" cy="133.6" r="1.6" fill="#111"/>
<circle cx="342.2" cy="129.2" r="1.6" fill="#111"/>
<circle cx="347.4" cy="131.6" r="1.6" fill="#111"/>
<circle cx="354.3" cy="146.5" r="1.6" fill="#111"/>
<circle cx="359.5" cy="150.5" r="1.6" fill="#111"/>
<circle cx="366.4" cy="150.0" r="1.6" fill="#111"/>
<circle cx="371.6" cy="149.5" r="1.6" fill="#111"/>
<circle cx="378.6" cy="150.0" r="1.6" fill="#111"/>
<circle cx="383.8" cy="149.8" r="1.6" fill="#111"/>
<circle cx="390.7" cy="150.0" r="1.6" fill="#111"/>
<circle cx="395.9" cy="150.0" r="1.6" fill="#111"/>
<circle cx="402.9" cy="150.0" r="1.6" fill="#111"/>
<circle cx="408.1" cy="149.8" r="1.6" fill="#111"/>
<circle cx="415.0" cy="150.0" r="1.6" fill="#111"/>
<circle cx="420.2" cy="150.0" r="1.6" fill="#111"/>
<circle cx="427.1" cy="150.0" r="1.6" fill="#111"/>
<circle cx="432.3" cy="150.0" r="1.6" fill="#111"/>
<circle cx="439.3" cy="150.0" r="1.6" fill="#111"/>
<circle cx="444.5" cy="150.0" r="1.6" fill="#111"/>
<circle cx="451.4" cy="150.0" r="1.6" fill="#111"/>
<circle cx="456.6" cy="150.2" r="1.6" fill="#111"/>
<circle cx="463.6" cy="150.0" r="1.6" fill="#111"/>
<circle cx="468.8" cy="150.0" r="1.6" fill="#111"/>
<circle cx="475.7" cy="150.0" r="1.6" fill="#111"/>
<circle cx="480.9" cy="150.0" r="1.6" fill="#111"/>
<polyline points="333.5,131.1 342.2,111.8 347.4,107.9 354.3,131.1 359.5,147.1 366.4,150.5 371.6,151.4 378.6,151.9 383.8,152.4 390.7,152.7 395.9,152.9 402.9,152.9 408.1,152.9 415.0,152.9 420.2,152.9 427.1,152.9 432.3,152.9 439.3,152.9 444.5,152.9 451.4,152.9" fill="none" stroke="#111" stroke-width="1.25" stroke-linejoin="round"/>
<circle cx="333.5" cy="131.1" r="1.6" fill="#111"/>
<circle cx="342.2" cy="111.8" r="1.6" fill="#111"/>
<circle cx="347.4" cy="107.9" r="1.6" fill="#111"/>
<circle cx="354.3" cy="131.1" r="1.6" fill="#111"/>
<circle cx="359.5" cy="147.1" r="1.6" fill="#111"/>
<circle cx="366.4" cy="150.5" r="1.6" fill="#111"/>
<circle cx="371.6" cy="151.4" r="1.6" fill="#111"/>
<circle cx="378.6" cy="151.9" r="1.6" fill="#111"/>
<circle cx="383.8" cy="152.4" r="1.6" fill="#111"/>
<circle cx="390.7" cy="152.7" r="1.6" fill="#111"/>
<circle cx="395.9" cy="152.9" r="1.6" fill="#111"/>
<circle cx="402.9" cy="152.9" r="1.6" fill="#111"/>
<circle cx="408.1" cy="152.9" r="1.6" fill="#111"/>
<circle cx="415.0" cy="152.9" r="1.6" fill="#111"/>
<circle cx="420.2" cy="152.9" r="1.6" fill="#111"/>
<circle cx="427.1" cy="152.9" r="1.6" fill="#111"/>
<circle cx="432.3" cy="152.9" r="1.6" fill="#111"/>
<circle cx="439.3" cy="152.9" r="1.6" fill="#111"/>
<circle cx="444.5" cy="152.9" r="1.6" fill="#111"/>
<circle cx="451.4" cy="152.9" r="1.6" fill="#111"/>
<polyline points="333.5,134.5 342.2,121.7 347.4,124.7 354.3,143.2 359.5,151.9 366.4,152.4 371.6,152.9 378.6,152.9 383.8,152.9 390.7,152.9 395.9,152.9 402.9,152.9 408.1,152.9 415.0,152.9 420.2,152.9 427.1,152.9 432.3,152.9 439.3,152.9 444.5,152.9 451.4,152.9 456.6,152.9 463.6,152.9 468.8,152.9 475.7,152.9 480.9,152.9" fill="none" stroke="#111" stroke-width="1.25" stroke-linejoin="round"/>
<circle cx="333.5" cy="134.5" r="1.6" fill="#111"/>
<circle cx="342.2" cy="121.7" r="1.6" fill="#111"/>
<circle cx="347.4" cy="124.7" r="1.6" fill="#111"/>
<circle cx="354.3" cy="143.2" r="1.6" fill="#111"/>
<circle cx="359.5" cy="151.9" r="1.6" fill="#111"/>
<circle cx="366.4" cy="152.4" r="1.6" fill="#111"/>
<circle cx="371.6" cy="152.9" r="1.6" fill="#111"/>
<circle cx="378.6" cy="152.9" r="1.6" fill="#111"/>
<circle cx="383.8" cy="152.9" r="1.6" fill="#111"/>
<circle cx="390.7" cy="152.9" r="1.6" fill="#111"/>
<circle cx="395.9" cy="152.9" r="1.6" fill="#111"/>
<circle cx="402.9" cy="152.9" r="1.6" fill="#111"/>
<circle cx="408.1" cy="152.9" r="1.6" fill="#111"/>
<circle cx="415.0" cy="152.9" r="1.6" fill="#111"/>
<circle cx="420.2" cy="152.9" r="1.6" fill="#111"/>
<circle cx="427.1" cy="152.9" r="1.6" fill="#111"/>
<circle cx="432.3" cy="152.9" r="1.6" fill="#111"/>
<circle cx="439.3" cy="152.9" r="1.6" fill="#111"/>
<circle cx="444.5" cy="152.9" r="1.6" fill="#111"/>
<circle cx="451.4" cy="152.9" r="1.6" fill="#111"/>
<circle cx="456.6" cy="152.9" r="1.6" fill="#111"/>
<circle cx="463.6" cy="152.9" r="1.6" fill="#111"/>
<circle cx="468.8" cy="152.9" r="1.6" fill="#111"/>
<circle cx="475.7" cy="152.9" r="1.6" fill="#111"/>
<circle cx="480.9" cy="152.9" r="1.6" fill="#111"/>
<polyline points="333.5,126.3 342.2,119.1 347.4,138.4 354.3,148.1 359.5,151.4 366.4,151.9 371.6,151.4 378.6,150.0 383.8,151.0 390.7,151.9 395.9,152.4 402.9,152.9" fill="none" stroke="#111" stroke-width="1.25" stroke-linejoin="round"/>
<circle cx="333.5" cy="126.3" r="1.6" fill="#111"/>
<circle cx="342.2" cy="119.1" r="1.6" fill="#111"/>
<circle cx="347.4" cy="138.4" r="1.6" fill="#111"/>
<circle cx="354.3" cy="148.1" r="1.6" fill="#111"/>
<circle cx="359.5" cy="151.4" r="1.6" fill="#111"/>
<circle cx="366.4" cy="151.9" r="1.6" fill="#111"/>
<circle cx="371.6" cy="151.4" r="1.6" fill="#111"/>
<circle cx="378.6" cy="150.0" r="1.6" fill="#111"/>
<circle cx="383.8" cy="151.0" r="1.6" fill="#111"/>
<circle cx="390.7" cy="151.9" r="1.6" fill="#111"/>
<circle cx="395.9" cy="152.4" r="1.6" fill="#111"/>
<circle cx="402.9" cy="152.9" r="1.6" fill="#111"/>
<text x="288.5" y="218.9" font-size="13.8" text-anchor="start" fill="#1a1a1a" font-weight="bold" stroke="#1a1a1a" stroke-width="0.35">D</text>
<text x="415.7" y="220.0" font-size="10.8" text-anchor="middle" fill="#1a1a1a" font-weight="bold" textLength="46.2" lengthAdjust="spacingAndGlyphs" stroke="#1a1a1a" stroke-width="0.22">AZD9291</text>
<line x1="330.5" y1="235.2" x2="330.5" y2="352.2" stroke="#111" stroke-width="1.2"/>
<line x1="329.9" y1="351.6" x2="506.5" y2="351.6" stroke="#111" stroke-width="1.2"/>
<line x1="327.2" y1="351.6" x2="330.5" y2="351.6" stroke="#111" stroke-width="1.2"/>
<text x="324.6" y="354.5" font-size="9.9" text-anchor="end" fill="#111" font-weight="bold" stroke="#111" stroke-width="0.22">0</text>
<line x1="327.2" y1="327.2" x2="330.5" y2="327.2" stroke="#111" stroke-width="1.2"/>
<text x="324.6" y="330.1" font-size="9.9" text-anchor="end" fill="#111" font-weight="bold" stroke="#111" stroke-width="0.22">500</text>
<line x1="327.2" y1="302.9" x2="330.5" y2="302.9" stroke="#111" stroke-width="1.2"/>
<text x="324.6" y="305.8" font-size="9.9" text-anchor="end" fill="#111" font-weight="bold" stroke="#111" stroke-width="0.22">1,000</text>
<line x1="327.2" y1="278.6" x2="330.5" y2="278.6" stroke="#111" stroke-width="1.2"/>
<text x="324.6" y="281.4" font-size="9.9" text-anchor="end" fill="#111" font-weight="bold" stroke="#111" stroke-width="0.22">1,500</text>
<line x1="327.2" y1="254.2" x2="330.5" y2="254.2" stroke="#111" stroke-width="1.2"/>
<text x="324.6" y="257.1" font-size="9.9" text-anchor="end" fill="#111" font-weight="bold" stroke="#111" stroke-width="0.22">2,000</text>
<line x1="330.5" y1="351.6" x2="330.5" y2="354.6" stroke="#111" stroke-width="1.1"/>
<text x="330.5" y="364.4" font-size="9.4" text-anchor="middle" fill="#111" font-weight="bold" stroke="#111" stroke-width="0.22">0</text>
<line x1="365.7" y1="351.6" x2="365.7" y2="354.6" stroke="#111" stroke-width="1.1"/>
<text x="365.7" y="364.4" font-size="9.4" text-anchor="middle" fill="#111" font-weight="bold" stroke="#111" stroke-width="0.22">20</text>
<line x1="400.9" y1="351.6" x2="400.9" y2="354.6" stroke="#111" stroke-width="1.1"/>
<text x="400.9" y="364.4" font-size="9.4" text-anchor="middle" fill="#111" font-weight="bold" stroke="#111" stroke-width="0.22">40</text>
<line x1="436.1" y1="351.6" x2="436.1" y2="354.6" stroke="#111" stroke-width="1.1"/>
<text x="436.1" y="364.4" font-size="9.4" text-anchor="middle" fill="#111" font-weight="bold" stroke="#111" stroke-width="0.22">60</text>
<line x1="471.3" y1="351.6" x2="471.3" y2="354.6" stroke="#111" stroke-width="1.1"/>
<text x="471.3" y="364.4" font-size="9.4" text-anchor="middle" fill="#111" font-weight="bold" stroke="#111" stroke-width="0.22">80</text>
<line x1="506.5" y1="351.6" x2="506.5" y2="354.6" stroke="#111" stroke-width="1.1"/>
<text x="506.5" y="364.4" font-size="9.4" text-anchor="middle" fill="#111" font-weight="bold" stroke="#111" stroke-width="0.22">100</text>
<text x="420.6" y="378.0" font-size="10.3" text-anchor="middle" fill="#1a1a1a" font-weight="bold" textLength="24.7" lengthAdjust="spacingAndGlyphs" stroke="#1a1a1a" stroke-width="0.22">Days</text>
<text transform="translate(293.6,299.65) rotate(-90)" font-size="11.5" text-anchor="middle" fill="#111" stroke="#111" stroke-width="0.22" font-weight="bold" textLength="117.6" lengthAdjust="spacingAndGlyphs">Tumor volume (mm<tspan font-size="8.6" dy="-3.6">3</tspan><tspan dy="3.6">)</tspan></text>
<polyline points="330.5,330.2 337.5,307.8 344.6,269.1 351.6,265.3 356.9,241.8" fill="none" stroke="#111" stroke-width="1.25" stroke-linejoin="round"/>
<circle cx="330.5" cy="330.2" r="1.6" fill="#111"/>
<circle cx="337.5" cy="307.8" r="1.6" fill="#111"/>
<circle cx="344.6" cy="269.1" r="1.6" fill="#111"/>
<circle cx="351.6" cy="265.3" r="1.6" fill="#111"/>
<circle cx="356.9" cy="241.8" r="1.6" fill="#111"/>
<polyline points="330.5,331.1 337.5,312.6 344.6,289.3 351.6,280.7 356.9,263.9 363.9,275.5 369.2,289.9 376.3,246.1" fill="none" stroke="#111" stroke-width="1.25" stroke-linejoin="round"/>
<circle cx="330.5" cy="331.1" r="1.6" fill="#111"/>
<circle cx="337.5" cy="312.6" r="1.6" fill="#111"/>
<circle cx="344.6" cy="289.3" r="1.6" fill="#111"/>
<circle cx="351.6" cy="280.7" r="1.6" fill="#111"/>
<circle cx="356.9" cy="263.9" r="1.6" fill="#111"/>
<circle cx="363.9" cy="275.5" r="1.6" fill="#111"/>
<circle cx="369.2" cy="289.9" r="1.6" fill="#111"/>
<circle cx="376.3" cy="246.1" r="1.6" fill="#111"/>
<polyline points="330.5,333.1 337.5,317.5 344.6,298.3 351.6,285.9 356.9,281.3 363.9,280.7 369.2,263.9 376.3,280.7 381.5,263.9" fill="none" stroke="#111" stroke-width="1.25" stroke-linejoin="round"/>
<circle cx="330.5" cy="333.1" r="1.6" fill="#111"/>
<circle cx="337.5" cy="317.5" r="1.6" fill="#111"/>
<circle cx="344.6" cy="298.3" r="1.6" fill="#111"/>
<circle cx="351.6" cy="285.9" r="1.6" fill="#111"/>
<circle cx="356.9" cy="281.3" r="1.6" fill="#111"/>
<circle cx="363.9" cy="280.7" r="1.6" fill="#111"/>
<circle cx="369.2" cy="263.9" r="1.6" fill="#111"/>
<circle cx="376.3" cy="280.7" r="1.6" fill="#111"/>
<circle cx="381.5" cy="263.9" r="1.6" fill="#111"/>
<polyline points="330.5,334.1 337.5,322.4 344.6,307.8 351.6,294.5 356.9,294.5 363.9,280.7 369.2,281.3 376.3,248.4" fill="none" stroke="#111" stroke-width="1.25" stroke-linejoin="round"/>
<circle cx="330.5" cy="334.1" r="1.6" fill="#111"/>
<circle cx="337.5" cy="322.4" r="1.6" fill="#111"/>
<circle cx="344.6" cy="307.8" r="1.6" fill="#111"/>
<circle cx="351.6" cy="294.5" r="1.6" fill="#111"/>
<circle cx="356.9" cy="294.5" r="1.6" fill="#111"/>
<circle cx="363.9" cy="280.7" r="1.6" fill="#111"/>
<circle cx="369.2" cy="281.3" r="1.6" fill="#111"/>
<circle cx="376.3" cy="248.4" r="1.6" fill="#111"/>
<polyline points="330.5,329.7 337.5,322.4 344.6,315.1 351.6,302.9 356.9,300.5 363.9,294.5 369.2,294.5 376.3,294.5 381.5,280.7" fill="none" stroke="#111" stroke-width="1.25" stroke-linejoin="round"/>
<circle cx="330.5" cy="329.7" r="1.6" fill="#111"/>
<circle cx="337.5" cy="322.4" r="1.6" fill="#111"/>
<circle cx="344.6" cy="315.1" r="1.6" fill="#111"/>
<circle cx="351.6" cy="302.9" r="1.6" fill="#111"/>
<circle cx="356.9" cy="300.5" r="1.6" fill="#111"/>
<circle cx="363.9" cy="294.5" r="1.6" fill="#111"/>
<circle cx="369.2" cy="294.5" r="1.6" fill="#111"/>
<circle cx="376.3" cy="294.5" r="1.6" fill="#111"/>
<circle cx="381.5" cy="280.7" r="1.6" fill="#111"/>
<polyline points="330.5,327.2 337.5,317.5 344.6,312.6 351.6,310.2 356.9,310.2 363.9,310.2 369.2,295.6 376.3,302.9 381.5,295.7" fill="none" stroke="#111" stroke-width="1.25" stroke-linejoin="round"/>
<circle cx="330.5" cy="327.2" r="1.6" fill="#111"/>
<circle cx="337.5" cy="317.5" r="1.6" fill="#111"/>
<circle cx="344.6" cy="312.6" r="1.6" fill="#111"/>
<circle cx="351.6" cy="310.2" r="1.6" fill="#111"/>
<circle cx="356.9" cy="310.2" r="1.6" fill="#111"/>
<circle cx="363.9" cy="310.2" r="1.6" fill="#111"/>
<circle cx="369.2" cy="295.6" r="1.6" fill="#111"/>
<circle cx="376.3" cy="302.9" r="1.6" fill="#111"/>
<circle cx="381.5" cy="295.7" r="1.6" fill="#111"/>
<polyline points="330.5,328.7 337.5,319.9 344.6,315.1 351.6,312.6 363.9,308.7 369.2,306.8 376.3,316.5 381.5,316.5" fill="none" stroke="#111" stroke-width="1.25" stroke-linejoin="round"/>
<circle cx="330.5" cy="328.7" r="1.6" fill="#111"/>
<circle cx="337.5" cy="319.9" r="1.6" fill="#111"/>
<circle cx="344.6" cy="315.1" r="1.6" fill="#111"/>
<circle cx="351.6" cy="312.6" r="1.6" fill="#111"/>
<circle cx="363.9" cy="308.7" r="1.6" fill="#111"/>
<circle cx="369.2" cy="306.8" r="1.6" fill="#111"/>
<circle cx="376.3" cy="316.5" r="1.6" fill="#111"/>
<circle cx="381.5" cy="316.5" r="1.6" fill="#111"/>
<polyline points="330.5,332.1 337.5,324.8 344.6,319.9 351.6,317.5 356.9,325.3 363.9,325.3 369.2,305.3 376.3,315.6 381.5,325.3 388.6,325.3 393.9,325.3 400.9,309.7 406.2,306.4" fill="none" stroke="#111" stroke-width="1.25" stroke-linejoin="round"/>
<circle cx="330.5" cy="332.1" r="1.6" fill="#111"/>
<circle cx="337.5" cy="324.8" r="1.6" fill="#111"/>
<circle cx="344.6" cy="319.9" r="1.6" fill="#111"/>
<circle cx="351.6" cy="317.5" r="1.6" fill="#111"/>
<circle cx="356.9" cy="325.3" r="1.6" fill="#111"/>
<circle cx="363.9" cy="325.3" r="1.6" fill="#111"/>
<circle cx="369.2" cy="305.3" r="1.6" fill="#111"/>
<circle cx="376.3" cy="315.6" r="1.6" fill="#111"/>
<circle cx="381.5" cy="325.3" r="1.6" fill="#111"/>
<circle cx="388.6" cy="325.3" r="1.6" fill="#111"/>
<circle cx="393.9" cy="325.3" r="1.6" fill="#111"/>
<circle cx="400.9" cy="309.7" r="1.6" fill="#111"/>
<circle cx="406.2" cy="306.4" r="1.6" fill="#111"/>
<polyline points="330.5,334.6 337.5,335.0 344.6,335.0 351.6,328.2 356.9,335.5 363.9,331.4 369.2,331.4 376.3,337.2 381.5,342.4 388.6,344.3 393.9,342.4 400.9,342.4 406.2,343.9 413.2,346.3 418.5,346.3 425.5,341.6 430.8,336.3 437.9,325.3 443.1,325.3 450.2,309.3" fill="none" stroke="#111" stroke-width="1.25" stroke-linejoin="round"/>
<circle cx="330.5" cy="334.6" r="1.6" fill="#111"/>
<circle cx="337.5" cy="335.0" r="1.6" fill="#111"/>
<circle cx="344.6" cy="335.0" r="1.6" fill="#111"/>
<circle cx="351.6" cy="328.2" r="1.6" fill="#111"/>
<circle cx="356.9" cy="335.5" r="1.6" fill="#111"/>
<circle cx="363.9" cy="331.4" r="1.6" fill="#111"/>
<circle cx="369.2" cy="331.4" r="1.6" fill="#111"/>
<circle cx="376.3" cy="337.2" r="1.6" fill="#111"/>
<circle cx="381.5" cy="342.4" r="1.6" fill="#111"/>
<circle cx="388.6" cy="344.3" r="1.6" fill="#111"/>
<circle cx="393.9" cy="342.4" r="1.6" fill="#111"/>
<circle cx="400.9" cy="342.4" r="1.6" fill="#111"/>
<circle cx="406.2" cy="343.9" r="1.6" fill="#111"/>
<circle cx="413.2" cy="346.3" r="1.6" fill="#111"/>
<circle cx="418.5" cy="346.3" r="1.6" fill="#111"/>
<circle cx="425.5" cy="341.6" r="1.6" fill="#111"/>
<circle cx="430.8" cy="336.3" r="1.6" fill="#111"/>
<circle cx="437.9" cy="325.3" r="1.6" fill="#111"/>
<circle cx="443.1" cy="325.3" r="1.6" fill="#111"/>
<circle cx="450.2" cy="309.3" r="1.6" fill="#111"/>
<text x="288.5" y="424.3" font-size="13.8" text-anchor="start" fill="#1a1a1a" font-weight="bold" stroke="#1a1a1a" stroke-width="0.35">E</text>
<text x="417.9" y="438.7" font-size="10.8" text-anchor="middle" fill="#1a1a1a" font-weight="bold" textLength="129.8" lengthAdjust="spacingAndGlyphs" stroke="#1a1a1a" stroke-width="0.22">JNJ-61186372 + AZD9291</text>
<line x1="333.5" y1="453.8" x2="333.5" y2="572.2" stroke="#111" stroke-width="1.2"/>
<line x1="332.9" y1="571.6" x2="511.2" y2="571.6" stroke="#111" stroke-width="1.2"/>
<line x1="330.2" y1="571.6" x2="333.5" y2="571.6" stroke="#111" stroke-width="1.2"/>
<text x="327.1" y="574.7" font-size="9.3" text-anchor="end" fill="#111" font-weight="bold" stroke="#111" stroke-width="0.22">0</text>
<line x1="330.2" y1="547.0" x2="333.5" y2="547.0" stroke="#111" stroke-width="1.2"/>
<text x="327.1" y="550.1" font-size="9.3" text-anchor="end" fill="#111" font-weight="bold" stroke="#111" stroke-width="0.22">500</text>
<line x1="330.2" y1="522.3" x2="333.5" y2="522.3" stroke="#111" stroke-width="1.2"/>
<text x="327.1" y="525.4" font-size="9.3" text-anchor="end" fill="#111" font-weight="bold" stroke="#111" stroke-width="0.22">1,000</text>
<line x1="330.2" y1="497.7" x2="333.5" y2="497.7" stroke="#111" stroke-width="1.2"/>
<text x="327.1" y="500.8" font-size="9.3" text-anchor="end" fill="#111" font-weight="bold" stroke="#111" stroke-width="0.22">1,500</text>
<line x1="330.2" y1="473.0" x2="333.5" y2="473.0" stroke="#111" stroke-width="1.2"/>
<text x="327.1" y="476.1" font-size="9.3" text-anchor="end" fill="#111" font-weight="bold" stroke="#111" stroke-width="0.22">2,000</text>
<line x1="333.5" y1="571.6" x2="333.5" y2="574.6" stroke="#111" stroke-width="1.1"/>
<text x="333.5" y="585.0" font-size="9.4" text-anchor="middle" fill="#111" font-weight="bold" stroke="#111" stroke-width="0.22">0</text>
<line x1="369.0" y1="571.6" x2="369.0" y2="574.6" stroke="#111" stroke-width="1.1"/>
<text x="369.0" y="585.0" font-size="9.4" text-anchor="middle" fill="#111" font-weight="bold" stroke="#111" stroke-width="0.22">20</text>
<line x1="404.6" y1="571.6" x2="404.6" y2="574.6" stroke="#111" stroke-width="1.1"/>
<text x="404.6" y="585.0" font-size="9.4" text-anchor="middle" fill="#111" font-weight="bold" stroke="#111" stroke-width="0.22">40</text>
<line x1="440.1" y1="571.6" x2="440.1" y2="574.6" stroke="#111" stroke-width="1.1"/>
<text x="440.1" y="585.0" font-size="9.4" text-anchor="middle" fill="#111" font-weight="bold" stroke="#111" stroke-width="0.22">60</text>
<line x1="475.7" y1="571.6" x2="475.7" y2="574.6" stroke="#111" stroke-width="1.1"/>
<text x="475.7" y="585.0" font-size="9.4" text-anchor="middle" fill="#111" font-weight="bold" stroke="#111" stroke-width="0.22">80</text>
<line x1="511.2" y1="571.6" x2="511.2" y2="574.6" stroke="#111" stroke-width="1.1"/>
<text x="511.2" y="585.0" font-size="9.4" text-anchor="middle" fill="#111" font-weight="bold" stroke="#111" stroke-width="0.22">100</text>
<text x="422.7" y="602.5" font-size="10.5" text-anchor="middle" fill="#1a1a1a" font-weight="bold" textLength="25.0" lengthAdjust="spacingAndGlyphs" stroke="#1a1a1a" stroke-width="0.22">Days</text>
<text transform="translate(295.8,520.95) rotate(-90)" font-size="11.5" text-anchor="middle" fill="#111" stroke="#111" stroke-width="0.22" font-weight="bold" textLength="117.6" lengthAdjust="spacingAndGlyphs">Tumor volume (mm<tspan font-size="8.6" dy="-3.6">3</tspan><tspan dy="3.6">)</tspan></text>
<polyline points="335.3,544.0 342.4,539.2 348.6,556.8 354.8,567.7 360.2,569.6 367.3,570.6" fill="none" stroke="#111" stroke-width="1.25" stroke-linejoin="round"/>
<circle cx="335.3" cy="544.0" r="1.6" fill="#111"/>
<circle cx="342.4" cy="539.2" r="1.6" fill="#111"/>
<circle cx="348.6" cy="556.8" r="1.6" fill="#111"/>
<circle cx="354.8" cy="567.7" r="1.6" fill="#111"/>
<circle cx="360.2" cy="569.6" r="1.6" fill="#111"/>
<circle cx="367.3" cy="570.6" r="1.6" fill="#111"/>
<polyline points="335.3,546.0 342.4,546.4 348.6,559.9 354.8,568.6 360.2,569.5 367.3,570.5 372.6,571.1 379.7,571.4 385.0,571.6 392.1,571.6 397.5,571.6 404.6,571.6 409.9,571.6 417.0,571.6 422.4,571.6 429.5,571.6 434.8,571.6 441.9,571.6 447.2,571.6 454.3,571.6 459.7,571.6 466.8,571.6 472.1,571.6 479.2,571.6 484.5,571.6" fill="none" stroke="#111" stroke-width="1.25" stroke-linejoin="round"/>
<circle cx="335.3" cy="546.0" r="1.6" fill="#111"/>
<circle cx="342.4" cy="546.4" r="1.6" fill="#111"/>
<circle cx="348.6" cy="559.9" r="1.6" fill="#111"/>
<circle cx="354.8" cy="568.6" r="1.6" fill="#111"/>
<circle cx="360.2" cy="569.5" r="1.6" fill="#111"/>
<circle cx="367.3" cy="570.5" r="1.6" fill="#111"/>
<circle cx="372.6" cy="571.1" r="1.6" fill="#111"/>
<circle cx="379.7" cy="571.4" r="1.6" fill="#111"/>
<circle cx="385.0" cy="571.6" r="1.6" fill="#111"/>
<circle cx="392.1" cy="571.6" r="1.6" fill="#111"/>
<circle cx="397.5" cy="571.6" r="1.6" fill="#111"/>
<circle cx="404.6" cy="571.6" r="1.6" fill="#111"/>
<circle cx="409.9" cy="571.6" r="1.6" fill="#111"/>
<circle cx="417.0" cy="571.6" r="1.6" fill="#111"/>
<circle cx="422.4" cy="571.6" r="1.6" fill="#111"/>
<circle cx="429.5" cy="571.6" r="1.6" fill="#111"/>
<circle cx="434.8" cy="571.6" r="1.6" fill="#111"/>
<circle cx="441.9" cy="571.6" r="1.6" fill="#111"/>
<circle cx="447.2" cy="571.6" r="1.6" fill="#111"/>
<circle cx="454.3" cy="571.6" r="1.6" fill="#111"/>
<circle cx="459.7" cy="571.6" r="1.6" fill="#111"/>
<circle cx="466.8" cy="571.6" r="1.6" fill="#111"/>
<circle cx="472.1" cy="571.6" r="1.6" fill="#111"/>
<circle cx="479.2" cy="571.6" r="1.6" fill="#111"/>
<circle cx="484.5" cy="571.6" r="1.6" fill="#111"/>
<polyline points="335.3,547.9 342.4,551.9 348.6,564.2 354.8,569.1 360.2,570.6 367.3,571.1 372.6,571.6 379.7,571.6 385.0,571.6 392.1,571.6 397.5,571.6" fill="none" stroke="#111" stroke-width="1.25" stroke-linejoin="round"/>
<circle cx="335.3" cy="547.9" r="1.6" fill="#111"/>
<circle cx="342.4" cy="551.9" r="1.6" fill="#111"/>
<circle cx="348.6" cy="564.2" r="1.6" fill="#111"/>
<circle cx="354.8" cy="569.1" r="1.6" fill="#111"/>
<circle cx="360.2" cy="570.6" r="1.6" fill="#111"/>
<circle cx="367.3" cy="571.1" r="1.6" fill="#111"/>
<circle cx="372.6" cy="571.6" r="1.6" fill="#111"/>
<circle cx="379.7" cy="571.6" r="1.6" fill="#111"/>
<circle cx="385.0" cy="571.6" r="1.6" fill="#111"/>
<circle cx="392.1" cy="571.6" r="1.6" fill="#111"/>
<circle cx="397.5" cy="571.6" r="1.6" fill="#111"/>
<polyline points="335.3,552.7 342.4,556.1 348.6,565.7 354.8,569.6 360.2,570.9 367.3,571.4" fill="none" stroke="#111" stroke-width="1.25" stroke-linejoin="round"/>
<circle cx="335.3" cy="552.7" r="1.6" fill="#111"/>
<circle cx="342.4" cy="556.1" r="1.6" fill="#111"/>
<circle cx="348.6" cy="565.7" r="1.6" fill="#111"/>
<circle cx="354.8" cy="569.6" r="1.6" fill="#111"/>
<circle cx="360.2" cy="570.9" r="1.6" fill="#111"/>
<circle cx="367.3" cy="571.4" r="1.6" fill="#111"/>
<polyline points="335.3,554.3 342.4,561.7 348.6,568.6 354.8,570.1 360.2,571.1" fill="none" stroke="#111" stroke-width="1.25" stroke-linejoin="round"/>
<circle cx="335.3" cy="554.3" r="1.6" fill="#111"/>
<circle cx="342.4" cy="561.7" r="1.6" fill="#111"/>
<circle cx="348.6" cy="568.6" r="1.6" fill="#111"/>
<circle cx="354.8" cy="570.1" r="1.6" fill="#111"/>
<circle cx="360.2" cy="571.1" r="1.6" fill="#111"/>
<polyline points="335.3,550.9 342.4,564.2 348.6,567.7 354.8,570.6 360.2,571.4" fill="none" stroke="#111" stroke-width="1.25" stroke-linejoin="round"/>
<circle cx="335.3" cy="550.9" r="1.6" fill="#111"/>
<circle cx="342.4" cy="564.2" r="1.6" fill="#111"/>
<circle cx="348.6" cy="567.7" r="1.6" fill="#111"/>
<circle cx="354.8" cy="570.6" r="1.6" fill="#111"/>
<circle cx="360.2" cy="571.4" r="1.6" fill="#111"/>
<polyline points="335.3,552.9 342.4,566.6 348.6,569.1 354.8,570.6" fill="none" stroke="#111" stroke-width="1.25" stroke-linejoin="round"/>
<circle cx="335.3" cy="552.9" r="1.6" fill="#111"/>
<circle cx="342.4" cy="566.6" r="1.6" fill="#111"/>
<circle cx="348.6" cy="569.1" r="1.6" fill="#111"/>
<circle cx="354.8" cy="570.6" r="1.6" fill="#111"/>
<polyline points="335.3,549.4 342.4,554.3 348.6,561.7 354.8,568.6 360.2,570.1 367.3,571.1" fill="none" stroke="#111" stroke-width="1.25" stroke-linejoin="round"/>
<circle cx="335.3" cy="549.4" r="1.6" fill="#111"/>
<circle cx="342.4" cy="554.3" r="1.6" fill="#111"/>
<circle cx="348.6" cy="561.7" r="1.6" fill="#111"/>
<circle cx="354.8" cy="568.6" r="1.6" fill="#111"/>
<circle cx="360.2" cy="570.1" r="1.6" fill="#111"/>
<circle cx="367.3" cy="571.1" r="1.6" fill="#111"/>
</svg>
</body></html>
